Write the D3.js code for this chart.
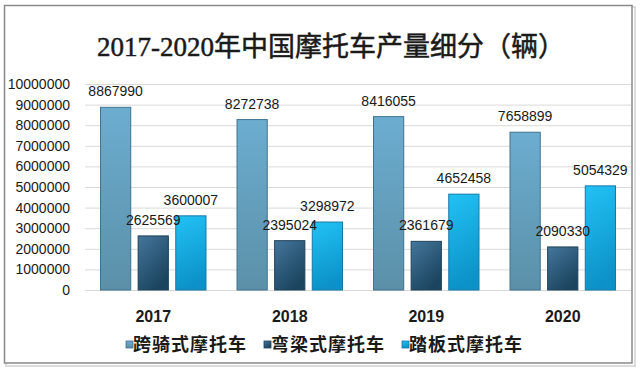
<!DOCTYPE html>
<html><head><meta charset="utf-8">
<script src="https://cdn.jsdelivr.net/npm/d3@7"></script>
<style>
html,body{margin:0;padding:0;background:#fff;}
svg{display:block;}
</style></head>
<body>
<svg id="chart" width="640" height="373"></svg>
<script>
const title = "2017-2020年中国摩托车产量细分（辆）";
const years = ["2017", "2018", "2019", "2020"];
const seriesNames = ["跨骑式摩托车", "弯梁式摩托车", "踏板式摩托车"];
const kuaqi = [8867990, 8272738, 8416055, 7658899];
const wanliang = [2625569, 2395024, 2361679, 2090330];
const taban = [3600007, 3298972, 4652458, 5054329];
const yTicks = [0, 1000000, 2000000, 3000000, 4000000, 5000000, 6000000, 7000000, 8000000, 9000000, 10000000];

const seriesValues = [kuaqi, wanliang, taban];
const svg = d3.select("#chart");
const defs = svg.append("defs");

const gradSpecs = [
  {id: "g0", x2: "0", y2: "1", stops: ["#6cadd0", "#5b90a8"], stroke: "#3f7390"},
  {id: "g1", x2: "0.6", y2: "1", stops: ["#44769c", "#1b445e"], stroke: "#1f4258"},
  {id: "g2", x2: "0.2", y2: "1", stops: ["#22c2f5", "#0c92c8"], stroke: "#1579a8"}
];
gradSpecs.forEach(g => {
  const lg = defs.append("linearGradient").attr("id", g.id)
    .attr("x1", "0").attr("y1", "0").attr("x2", g.x2).attr("y2", g.y2);
  lg.append("stop").attr("offset", "0%").attr("stop-color", g.stops[0]);
  lg.append("stop").attr("offset", "100%").attr("stop-color", g.stops[1]);
});

// shadow + frame
svg.append("rect").attr("x", 6).attr("y", 7).attr("width", 629).attr("height", 359)
  .attr("fill", "none").attr("stroke", "#dcdcdc").attr("stroke-width", 2);
svg.append("rect").attr("x", 4.5).attr("y", 5.5).attr("width", 627.5).attr("height", 357.5)
  .attr("fill", "#fff").attr("stroke", "#8a8a8a").attr("stroke-width", 1.5);

// title
svg.append("text").attr("x", 331).attr("y", 56).attr("text-anchor", "middle")
  .attr("font-family", "'Liberation Serif','Noto Sans CJK SC',serif")
  .attr("font-size", 27).attr("fill", "#1a1a1a")
  .attr("stroke", "#1a1a1a").attr("stroke-width", 0.5).text(title);

const y = d3.scaleLinear().domain([0, 10000000]).range([290, 84]);
const x0 = d3.scaleBand().domain(years).range([85, 631]).paddingInner(0.22).paddingOuter(0.11);
const x1 = d3.scaleBand().domain(d3.range(seriesNames.length)).range([0, x0.bandwidth()]).paddingInner(0.17);

// gridlines
const yAxis = d3.axisLeft(y).tickValues(yTicks).tickSize(-(631 - 85)).tickFormat(d3.format("d"));
const ga = svg.append("g").attr("transform", "translate(85,0)").call(yAxis);
ga.select(".domain").remove();
ga.selectAll(".tick line").attr("stroke", "#d9d9d9").attr("stroke-width", 1);
ga.selectAll(".tick text").attr("x", -15).attr("fill", "#1a1a1a")
  .attr("font-family", "'Liberation Sans',Arial,sans-serif").attr("font-size", 14);

// bars
const groups = svg.append("g").selectAll("g").data(years).join("g")
  .attr("transform", d => `translate(${x0(d)},0)`);
groups.each(function(yr, yi) {
  const g = d3.select(this);
  seriesValues.forEach((vals, si) => {
    const v = vals[yi];
    g.append("rect")
      .attr("x", x1(si) + 0.5).attr("y", y(v))
      .attr("width", x1.bandwidth() - 1).attr("height", y(0) - y(v))
      .attr("fill", `url(#${gradSpecs[si].id})`)
      .attr("stroke", gradSpecs[si].stroke).attr("stroke-width", 1);
  });
});
// labels drawn after all bars
const labels = svg.append("g").selectAll("g").data(years).join("g")
  .attr("transform", d => `translate(${x0(d)},0)`);
labels.each(function(yr, yi) {
  const g = d3.select(this);
  seriesValues.forEach((vals, si) => {
    const v = vals[yi];
    g.append("text")
      .attr("x", x1(si) + x1.bandwidth() / 2).attr("y", y(v) - 11)
      .attr("text-anchor", "middle").attr("fill", "#1a1a1a")
      .attr("font-family", "'Liberation Sans',Arial,sans-serif").attr("font-size", 14)
      .text(v);
  });
});

// x axis labels
const xa = d3.axisBottom(x0).tickSize(0).tickPadding(0);
const gx = svg.append("g").attr("transform", "translate(0,311)").call(xa);
gx.select(".domain").remove();
gx.selectAll(".tick text").attr("dy", "0.71em").attr("fill", "#1a1a1a")
  .attr("font-family", "'Liberation Sans',Arial,sans-serif").attr("font-size", 16).attr("font-weight", "bold");

// legend
const legendX = d3.scalePoint().domain(seriesNames).range([126, 402]);
const lg = svg.append("g").selectAll("g").data(seriesNames).join("g")
  .attr("transform", d => `translate(${legendX(d)},345)`);
lg.append("rect").attr("x", 0).attr("y", -4).attr("width", 7).attr("height", 7)
  .attr("fill", (d, i) => `url(#${gradSpecs[i].id})`)
  .attr("stroke", (d, i) => gradSpecs[i].stroke).attr("stroke-width", 0.8);
lg.append("text").attr("x", 7).attr("y", 0).attr("dy", "0.35em")
  .attr("font-family", "'Noto Sans CJK SC',sans-serif").attr("font-size", 18)
  .attr("font-weight", 700).attr("letter-spacing", 1).attr("fill", "#1a1a1a")
  .text(d => d);
</script>
</body></html>
